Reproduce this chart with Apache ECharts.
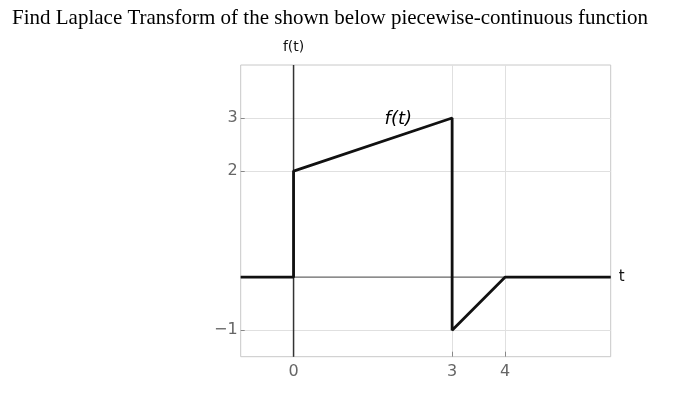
<!DOCTYPE html>
<html><head><meta charset="utf-8">
<script src="https://cdn.jsdelivr.net/npm/echarts@6/dist/echarts.min.js"></script>
<style>html,body{margin:0;padding:0;background:#fff}#c{width:700px;height:404px}</style>
</head><body><div id="c"></div>
<script>
const titleText = 'Find Laplace Transform of the shown below piecewise-continuous function';
const fPoints = [[-1,0],[0,0],[0,2],[3,3],[3,-1],[4,0],[6,0]];
const xTickValues = [0,3,4];
const yTickValues = [-1,2,3];
const xRange = [-1,6];
const yRange = [-1.5,4];
const tAxisLine = [[-1,0],[6,0]];
const fAxisLine = [[0,-1.5],[0,4]];

const chart = echarts.init(document.getElementById('c'), null, {renderer:'canvas'});
const lblFont = {fontFamily:'DejaVu Sans', fontSize:16, color:'#666'};
const fmt = v => v < 0 ? '\u2212' + Math.abs(v) : String(v);
chart.setOption({
  animation:false,
  title:{text:titleText,left:7,top:3,textStyle:{fontFamily:'Liberation Serif',fontSize:21,fontWeight:'normal',color:'#000'}},
  grid:{left:240.7,top:65,right:89.3,bottom:47.3,show:true,borderColor:'#c8c8c8',borderWidth:1},
  xAxis:{type:'value',min:xRange[0],max:xRange[1],interval:1,
    axisLine:{show:false,onZero:false},
    splitLine:{show:true,lineStyle:{color:'#e0e0e0',width:1}},
    axisTick:{show:true,inside:true,customValues:xTickValues,length:5,lineStyle:{color:'#888'}},
    axisLabel:{customValues:xTickValues,margin:7,formatter:fmt,...lblFont}},
  yAxis:{type:'value',min:yRange[0],max:yRange[1],interval:1,
    axisLine:{show:false,onZero:false},
    splitLine:{show:true,lineStyle:{color:'#e0e0e0',width:1}},
    axisTick:{show:true,inside:true,customValues:yTickValues,length:4,lineStyle:{color:'#888'}},
    axisLabel:{customValues:yTickValues,margin:3,formatter:fmt,...lblFont}},
  series:[
    {type:'line',data:tAxisLine,symbol:'none',lineStyle:{color:'#666',width:1.2},z:2,silent:true},
    {type:'line',data:fAxisLine,symbol:'none',lineStyle:{color:'#333',width:1.5},z:2,silent:true},
    {type:'line',data:fPoints,symbol:'none',lineStyle:{color:'#111',width:2.8},z:3,silent:true},
    {type:'scatter',symbolSize:0,silent:true,z:4,itemStyle:{opacity:1},data:[
      {value:[0,4],label:{show:true,formatter:'f(t)',position:'top',distance:11,fontFamily:'DejaVu Sans',fontSize:14,color:'#111'}},
      {value:[6,0],label:{show:true,formatter:'t',position:'right',distance:8,fontFamily:'DejaVu Sans',fontSize:15,color:'#111'}},
      {value:[2,3],label:{show:true,formatter:'f(t)',position:'inside',offset:[-1,1],fontFamily:'DejaVu Sans',fontStyle:'italic',fontSize:18,color:'#000'}}
    ]}
  ]
});
</script></body></html>
